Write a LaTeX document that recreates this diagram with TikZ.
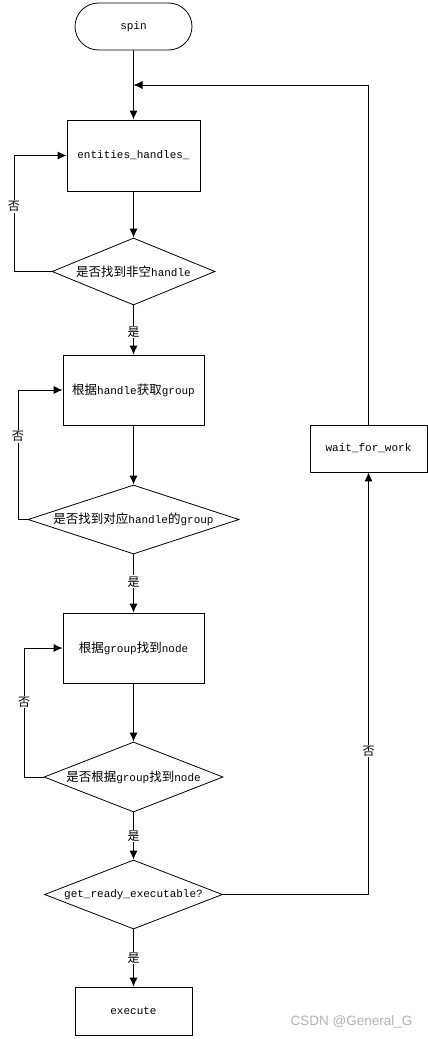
\documentclass[tikz,border=0pt]{standalone}
\usepackage{fontspec}
\setmonofont{Liberation Mono}
\newfontfamily\cjk{Noto Sans CJK SC}
\newfontfamily\wmfont{Liberation Sans}
\usetikzlibrary{arrows.meta,shapes.geometric,shapes.misc}
\begin{document}
\begin{tikzpicture}[x=1pt,y=-1pt,
  every node/.style={font=\ttfamily\fontsize{11}{13}\selectfont, text=black},
  procbox/.style={draw, line width=0.8pt, rectangle, inner sep=0pt},
  termbox/.style={draw, line width=0.8pt, rounded rectangle, inner sep=0pt, minimum width=117pt, minimum height=47pt},
  decbox/.style={draw, line width=0.8pt, diamond, inner sep=0pt},
  flow/.style={line width=0.8pt, -{Latex[length=9pt,width=8pt]}},
  edgelabel/.style={fill=white, inner sep=1pt, font=\cjk\fontsize{12}{14}\selectfont}
]
\useasboundingbox (0,0) rectangle (428,1039);
\newcommand{\zh}[1]{{\cjk\fontsize{12.5}{14}\selectfont #1}}

\node[termbox] (spin) at (133.5,26.5) {spin};
\node[procbox, minimum width=133pt, minimum height=71pt] (b1) at (133.5,155.5) {entities\_handles\_};
\node[decbox, minimum width=163pt, minimum height=67pt, shape aspect=2.43] (d1) at (133.5,271.5) {\zh{是否找到非空}handle};
\node[procbox, minimum width=141pt, minimum height=70pt] (b2) at (133.5,390) {\zh{根据}handle\zh{获取}group};
\node[decbox, minimum width=211pt, minimum height=69pt, shape aspect=3.06] (d2) at (133.5,519.5) {\zh{是否找到对应}handle\zh{的}group};
\node[procbox, minimum width=141pt, minimum height=70pt] (b3) at (133.5,648) {\zh{根据}group\zh{找到}node};
\node[decbox, minimum width=179pt, minimum height=70pt, shape aspect=2.56] (d3) at (133.5,777) {\zh{是否根据}group\zh{找到}node};
\node[decbox, minimum width=178pt, minimum height=69pt, shape aspect=2.58] (d4) at (133.5,894.5) {get\_ready\_executable?};
\node[procbox, minimum width=117pt, minimum height=48pt] (ex) at (133.5,1011) {execute};
\node[procbox, minimum width=117pt, minimum height=47pt] (wait) at (368.5,448.5) {wait\_for\_work};

\coordinate (join) at (133.5,85);
\coordinate (l1) at (14,271.5);
\coordinate (l2) at (18,519.5);
\coordinate (l3) at (24,777);

\draw[flow] (spin) -- (b1);
\draw[flow] (wait.north) |- (join);
\draw[flow] (b1) -- (d1);
\draw[flow] (d1.west) -- (l1) |- node[edgelabel, pos=0.28] {否} (b1.west);
\draw[flow] (d1) -- node[edgelabel, pos=0.54] {是} (b2);
\draw[flow] (b2) -- (d2);
\draw[flow] (d2.west) -- (l2) |- node[edgelabel, pos=0.32] {否} (b2.west);
\draw[flow] (d2) -- node[edgelabel, pos=0.47] {是} (b3);
\draw[flow] (b3) -- (d3);
\draw[flow] (d3.west) -- (l3) |- node[edgelabel, pos=0.29] {否} (b3.west);
\draw[flow] (d3) -- node[edgelabel, pos=0.5] {是} (d4);
\draw[flow] (d4) -- node[edgelabel, pos=0.5] {是} (ex);
\draw[flow] (d4.east) -| node[edgelabel, pos=0.67] {否} (wait.south);

\node[font=\wmfont\fontsize{13.5}{15}\selectfont, text=black!30, anchor=east] (wm) at (416,1022) {CSDN @General\_G};
\end{tikzpicture}
\end{document}
